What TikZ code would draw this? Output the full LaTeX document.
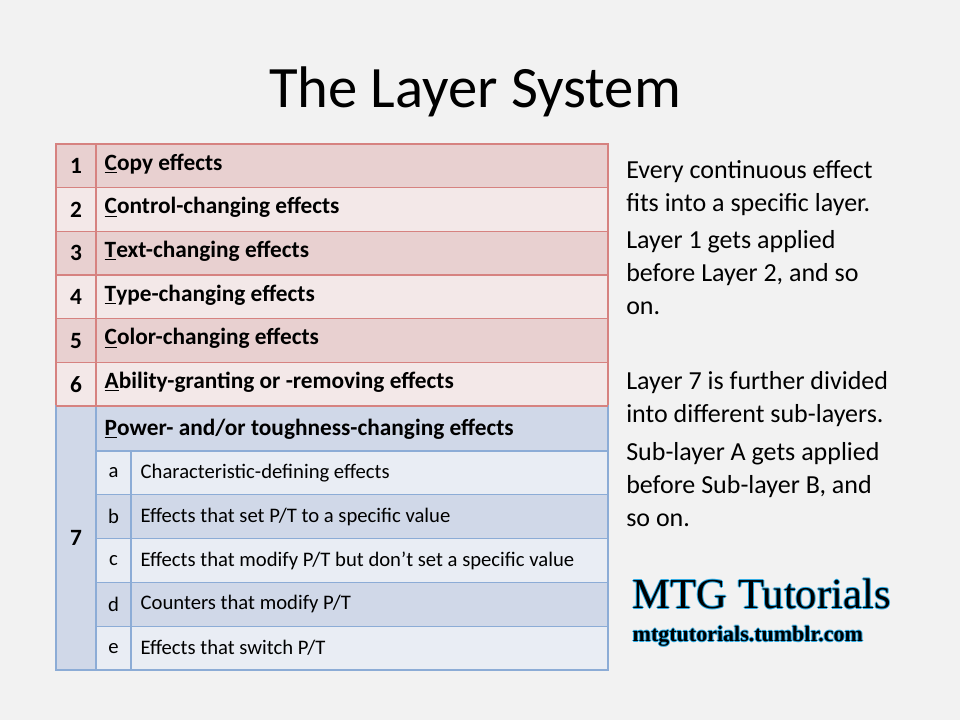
\documentclass[tikz,border=0pt]{standalone}
\usepackage{fontspec}
\setmainfont{Carlito}
\usepackage{xcolor}
\usetikzlibrary{positioning,calc}
\definecolor{slidebg}{RGB}{242,242,242}
\definecolor{reddark}{RGB}{232,208,208}
\definecolor{redlight}{RGB}{243,232,232}
\definecolor{redline}{RGB}{214,130,128}
\definecolor{bluedark}{RGB}{208,216,232}
\definecolor{bluelight}{RGB}{233,237,244}
\definecolor{blueline}{RGB}{140,172,214}
\definecolor{logoglow}{RGB}{40,170,230}
\tikzset{
  numtext/.style={font=\fontsize{17.5}{20}\selectfont\bfseries},
  maintext/.style={font=\fontsize{17.5}{20}\selectfont\bfseries, anchor=west},
  subtext/.style={font=\fontsize{15.5}{18}\selectfont, anchor=west},
  bodytext/.style={font=\fontsize{19.5}{25}\selectfont, anchor=north west, align=left, inner sep=0pt}
}
\begin{document}
\begin{tikzpicture}[x=0.75pt,y=-0.75pt]
\fill[slidebg] (0,0) rectangle (960,720);
\useasboundingbox (0,0) rectangle (960,720);

% Title
\node[font=\fontsize{44}{48}\selectfont] (title) at (475,92) {The Layer System};

% Layers 1-6
\foreach \n/\txt [count=\i] in {1/{\underline{C}opy effects},2/{\underline{C}ontrol-changing effects},3/{\underline{T}ext-changing effects},4/{\underline{T}ype-changing effects},5/{\underline{C}olor-changing effects},6/{\underline{A}bility-granting or -removing effects}}{
  \pgfmathsetmacro{\ytop}{144+(\i-1)*43.7}
  \pgfmathsetmacro{\ybot}{144+\i*43.7}
  \ifodd\i \def\shade{reddark}\else\def\shade{redlight}\fi
  \draw[fill=\shade, draw=redline, line width=0.9pt] (56,\ytop) rectangle (608,\ybot);
  \draw[redline, line width=0.9pt] (96,\ytop) -- (96,\ybot);
  \node[numtext] (num\n) at (76,{(\ytop+\ybot)/2}) {\n};
  \node[maintext] (lay\n) at (100,{(\ytop+\ybot)/2-2}) {\txt};
}

% Layer 7
\fill[bluedark] (56,406) rectangle (96,670);
\node[numtext] (num7) at (76,538) {7};
\draw[fill=bluedark, draw=blueline, line width=0.9pt] (96,406) rectangle (608,451);
\node[maintext] (lay7) at (100,429) {\underline{P}ower- and/or toughness-changing effects};
\foreach \s/\txt [count=\i] in {a/{Characteristic-defining  effects},b/{Effects  that set P/T to a specific value},c/{Effects  that modify P/T but don’t set a specific value},d/{Counters that modify P/T},e/{Effects  that switch P/T}}{
  \pgfmathsetmacro{\ytop}{451+(\i-1)*43.8}
  \pgfmathsetmacro{\ybot}{451+\i*43.8}
  \ifodd\i \def\shade{bluelight}\else\def\shade{bluedark}\fi
  \draw[fill=\shade, draw=blueline, line width=0.9pt] (96,\ytop) rectangle (608,\ybot);
  \draw[blueline, line width=0.9pt] (131,\ytop) -- (131,\ybot);
  \node[subtext, anchor=center] (sub\s) at (113.5,{(\ytop+\ybot)/2}) {\s};
  \node[subtext] (subtxt\s) at (136,{(\ytop+\ybot)/2}) {\txt};
}
\draw[blueline, line width=0.9pt] (56,406) rectangle (608,670);
\draw[redline, line width=1.5pt] (56,406) -- (608,406);

% Notes
\node[bodytext] (note1) at (626,160) {Every continuous effect\\fits into a specific layer.};
\node[bodytext] (note2) at (626,230) {Layer 1 gets applied\\before Layer 2, and so\\on.};
\node[bodytext] (note3) at (626,371) {Layer 7 is further divided\\into different sub-layers.};
\node[bodytext] (note4) at (626,442) {Sub-layer A gets applied\\before Sub-layer B, and\\so on.};

% Logo
\foreach \dx/\dy in {-1/0,1/0,0/-1,0/1}{
  \node[font=\fontsize{32}{34}\selectfont, text=logoglow, anchor=west] at (628+\dx,594+\dy) {\fontspec{Liberation Serif}MTG Tutorials};
  \node[font=\fontsize{16.5}{18}\selectfont\bfseries, text=logoglow, anchor=west] at (628+\dx,636+\dy) {\fontspec{Liberation Serif}mtgtutorials.tumblr.com};
}
\node[font=\fontsize{32}{34}\selectfont, anchor=west] (logo) at (628,594) {\fontspec{Liberation Serif}MTG Tutorials};
\node[font=\fontsize{16.5}{18}\selectfont\bfseries, anchor=west] (url) at (628,636) {\fontspec{Liberation Serif}mtgtutorials.tumblr.com};
\end{tikzpicture}
\end{document}
